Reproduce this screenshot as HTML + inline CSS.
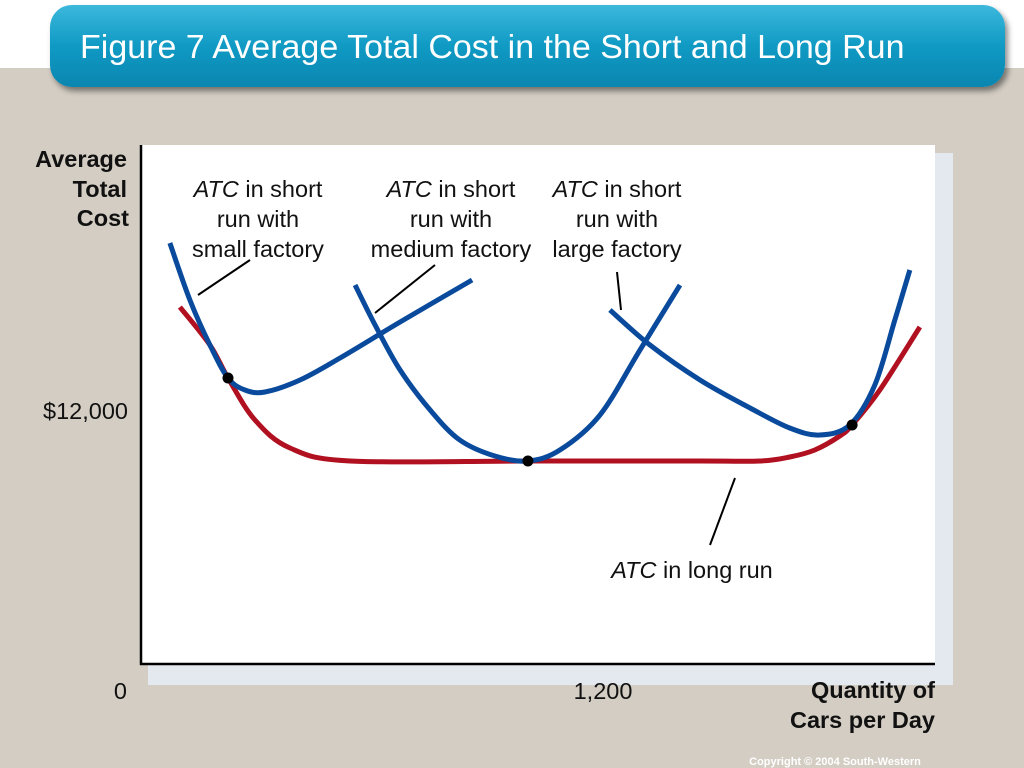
<!DOCTYPE html>
<html><head><meta charset="utf-8"><style>
body{margin:0;width:1024px;height:768px;overflow:hidden;background:#d3cdc3;font-family:"Liberation Sans",sans-serif;position:relative}
.top{position:absolute;left:0;top:0;width:1024px;height:68px;background:#fff}
.bar{position:absolute;left:50px;top:5px;width:955px;height:82px;border-radius:22px;background:linear-gradient(#3cb8dc,#0f9ac4 50%,#0a86b0);box-shadow:3px 4px 6px rgba(0,0,0,.45)}
.title{position:absolute;left:80px;top:28px;color:#fff;font-size:33px;transform:scaleX(1.03);transform-origin:left;white-space:nowrap}
svg{position:absolute;left:0;top:0}
.lbl{font-size:23.5px;fill:#111}
.b{font-weight:bold}
</style></head><body>
<div class="top"></div>
<div class="bar"></div>
<div class="title">Figure 7 Average Total Cost in the Short and Long Run</div>
<svg width="1024" height="768" id="chart">
<rect x="148" y="153" width="805" height="532" fill="#e4e8ef"/>
<rect x="141" y="145" width="794" height="519" fill="#fff"/>
<g id="marks"></g>
<line x1="141" y1="145" x2="141" y2="665" stroke="#000" stroke-width="2.5"/>
<line x1="140" y1="664" x2="935" y2="664" stroke="#000" stroke-width="2.5"/>
<g class="lbl b" text-anchor="end">
<text x="127" y="167">Average</text><text x="127" y="197">Total</text><text x="129" y="226">Cost</text></g>
<text class="lbl" x="128" y="419" text-anchor="end">$12,000</text>
<text class="lbl" x="127" y="699" text-anchor="end">0</text>
<text class="lbl" x="603" y="699" text-anchor="middle">1,200</text>
<g class="lbl b" text-anchor="end">
<text x="935" y="698">Quantity of</text><text x="935" y="728">Cars per Day</text></g>
<g class="lbl" text-anchor="middle">
<text x="258" y="197"><tspan font-style="italic">ATC</tspan> in short</text><text x="258" y="227">run with</text><text x="258" y="257">small factory</text></g>
<g class="lbl" text-anchor="middle">
<text x="451" y="197"><tspan font-style="italic">ATC</tspan> in short</text><text x="451" y="227">run with</text><text x="451" y="257">medium factory</text></g>
<g class="lbl" text-anchor="middle">
<text x="617" y="197"><tspan font-style="italic">ATC</tspan> in short</text><text x="617" y="227">run with</text><text x="617" y="257">large factory</text></g>
<text class="lbl" x="692" y="578" text-anchor="middle"><tspan font-style="italic">ATC</tspan> in long run</text>
<g stroke="#000" stroke-width="2">
<line x1="198" y1="295" x2="250" y2="260"/>
<line x1="375" y1="313" x2="435" y2="265"/>
<line x1="621" y1="310" x2="617" y2="272"/>
<line x1="735" y1="478" x2="710" y2="545"/>
</g>
<text x="835" y="765" font-size="11" fill="#fff" text-anchor="middle" font-weight="bold">Copyright © 2004  South-Western</text>
</svg>
<script>
const smallQ=[75,127,179,226,270,322,413,517,673,860];
const smallC=[19968,17265,15130,13565,12996,12901,13470,14514,16221,18213];
const medQ=[556,608,673,751,828,919,1005,1088,1192,1296,1400];
const medC=[17976,16079,13944,12047,10624,9865,9628,10150,11810,14893,17976];
const largeQ=[1218,1322,1452,1582,1685,1763,1841,1906,1958,1997];
const largeC=[16790,15130,13470,12142,11193,10861,11336,13233,16316,18687];
const lrQ=[101,179,226,296,387,543,1005,1452,1608,1685,1750,1815,1847,1919,2023];
const lrC=[16932,15130,13565,11573,10245,9628,9628,9628,9628,9818,10150,10814,11336,12996,15984];
const dotQ=[226,1005,1847];
const dotC=[13565,9628,11336];
const xs=q=>141+q*462/1200;
const ys=c=>664-c*253/12000;
const NS='http://www.w3.org/2000/svg';
const g=document.getElementById('marks');
function path(Q,C,color,name){
  const p=Q.map((q,i)=>[xs(q),ys(C[i])]);
  let d='M'+p[0][0]+','+p[0][1];
  for(let i=0;i<p.length-1;i++){
    const p0=p[Math.max(0,i-1)],p1=p[i],p2=p[i+1],p3=p[Math.min(p.length-1,i+2)];
    d+=' C'+(p1[0]+(p2[0]-p0[0])/6)+','+(p1[1]+(p2[1]-p0[1])/6)+' '+(p2[0]-(p3[0]-p1[0])/6)+','+(p2[1]-(p3[1]-p1[1])/6)+' '+p2[0]+','+p2[1];
  }
  const el=document.createElementNS(NS,'path');
  el.setAttribute('d',d);el.setAttribute('fill','none');el.setAttribute('stroke',color);el.setAttribute('stroke-width','5');
  
  
  g.appendChild(el);
}
path(lrQ,lrC,'#b01020','long-run-atc-curve');
path(smallQ,smallC,'#0a4a9c','small-factory-atc-curve');
path(medQ,medC,'#0a4a9c','medium-factory-atc-curve');
path(largeQ,largeC,'#0a4a9c','large-factory-atc-curve');
dotQ.forEach((q,i)=>{
  const c=document.createElementNS(NS,'circle');
  c.setAttribute('cx',xs(q));c.setAttribute('cy',ys(dotC[i]));c.setAttribute('r','5.5');c.setAttribute('fill','#000');
  
  
  g.appendChild(c);
});
</script>
</body></html>
